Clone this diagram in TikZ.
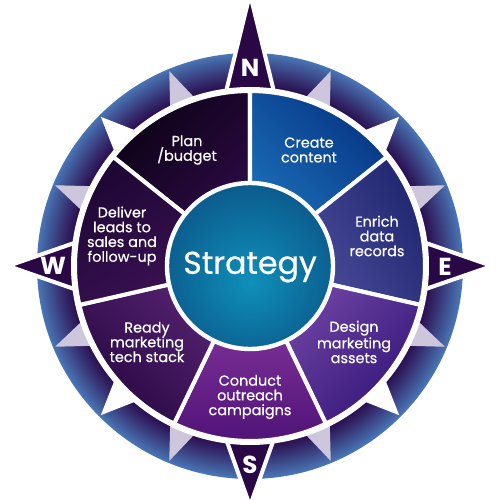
\documentclass[tikz,border=0pt]{standalone}
\usepackage{fontspec}
\setmainfont{Poppins}
\newfontfamily\medfont{Poppins}[FakeBold=0.6]
\definecolor{ringin}{HTML}{2A0B4C}
\definecolor{ringout}{HTML}{4A76B6}
\definecolor{tealin}{HTML}{0F90BA}
\definecolor{tealout}{HTML}{0A4A7E}
\definecolor{lav}{HTML}{CDC6DC}
\definecolor{cardpurple}{HTML}{2A0846}
\definecolor{planA}{HTML}{0C0216}
\definecolor{planB}{HTML}{320B4C}
\definecolor{createA}{HTML}{063585}
\definecolor{createB}{HTML}{1E76BE}
\definecolor{enrichA}{HTML}{20266F}
\definecolor{enrichB}{HTML}{5656A6}
\definecolor{designA}{HTML}{7A4CAB}
\definecolor{designB}{HTML}{34177A}
\definecolor{conductA}{HTML}{953FA8}
\definecolor{conductB}{HTML}{4E1276}
\definecolor{readyA}{HTML}{5E2779}
\definecolor{readyB}{HTML}{280843}
\definecolor{deliverA}{HTML}{1E0634}
\definecolor{deliverB}{HTML}{3E1358}
\pgfdeclareradialshading{centersh}{\pgfpoint{0bp}{-5bp}}{color(0bp)=(tealin); color(36bp)=(tealout); color(50bp)=(tealout)}
\tikzset{
  cardinal/.style={fill=cardpurple, draw=white, line width=2.3pt, line join=miter},
  segment/.style={draw=white, line width=2.3pt},
  lbl/.style={text=white, align=center, font=\medfont\fontsize{8.2}{8.4}\selectfont, inner sep=0pt},
  dir/.style={text=white, font=\bfseries\fontsize{14}{14}\selectfont, inner sep=0pt}
}
\newcommand{\seg}[5]{%
  \shadedraw[segment, top color=#3, bottom color=#4, shading angle=#5]
    (0,0) -- (#1:175) arc[start angle=#1, end angle=#2, radius=175] -- cycle;}
\begin{document}
\begin{tikzpicture}[x=0.02cm,y=0.02cm]
\useasboundingbox (-250,-234) rectangle (250,266);
% outer ring: concentric steps from blue (outside) to dark purple (inside)
\foreach \i in {0,...,36} {
  \pgfmathsetmacro{\rr}{213-\i}
  \pgfmathtruncatemacro{\tt}{100*(1-\i/36)^1.1}
  \fill[ringout!\tt!ringin] (0,0) circle[radius=\rr];
}
% small compass points
\foreach \a in {22.5,67.5,112.5,157.5,202.5,247.5,292.5,337.5}
  \fill[lav, rotate=\a] (172,-15) -- (211,0) -- (172,15) -- cycle;
\foreach \a in {45,135,225,315}
  \fill[white, rotate=\a] (172,-17) -- (211,0) -- (172,17) -- cycle;
% cardinal points
\path[cardinal] (0,272) -- (25,170) -- (-25,170) -- cycle;
\path[cardinal] (242,0) -- (170,-25) -- (170,25) -- cycle;
\path[cardinal] (0,-240) -- (-25,-170) -- (25,-170) -- cycle;
\path[cardinal] (-242,0) -- (-170,25) -- (-170,-25) -- cycle;
% white separator
\fill[white] (0,0) circle[radius=179];
% segments
\seg{90}{141.43}{planA}{planB}{45}
\seg{38.57}{90}{createA}{createB}{-45}
\seg{-12.86}{38.57}{enrichA}{enrichB}{-60}
\seg{-64.29}{-12.86}{designA}{designB}{45}
\seg{-115.71}{-64.29}{conductA}{conductB}{0}
\seg{-167.14}{-115.71}{readyA}{readyB}{-45}
\seg{141.43}{192.86}{deliverA}{deliverB}{30}
% centre
\shadedraw[shading=centersh, draw=white, line width=2.5pt] (0,0) circle[radius=83];
% labels
\node[lbl] (plan) at (-63,116) {Plan\\/budget};
\node[lbl] (create) at (59,116) {Create\\content};
\node[lbl] (enrich) at (127,30) {Enrich\\data\\records};
\node[lbl] (design) at (104,-76) {Design\\marketing\\assets};
\node[lbl] (conduct) at (0,-131) {Conduct\\outreach\\campaigns};
\node[lbl] (ready) at (-103,-76) {Ready\\marketing\\tech stack};
\node[lbl] (deliver) at (-128,30) {Deliver\\leads to\\sales and\\follow-up};
\node[text=white, font=\medfont\fontsize{18}{18}\selectfont, inner sep=0pt] (strategy) at (0,-1) {Strategy};
\node[dir] (north) at (0,198) {N};
\node[dir] (east) at (195,-1) {E};
\node[dir] (south) at (0,-199) {S};
\node[dir] (west) at (-197,0) {W};
\end{tikzpicture}
\end{document}
